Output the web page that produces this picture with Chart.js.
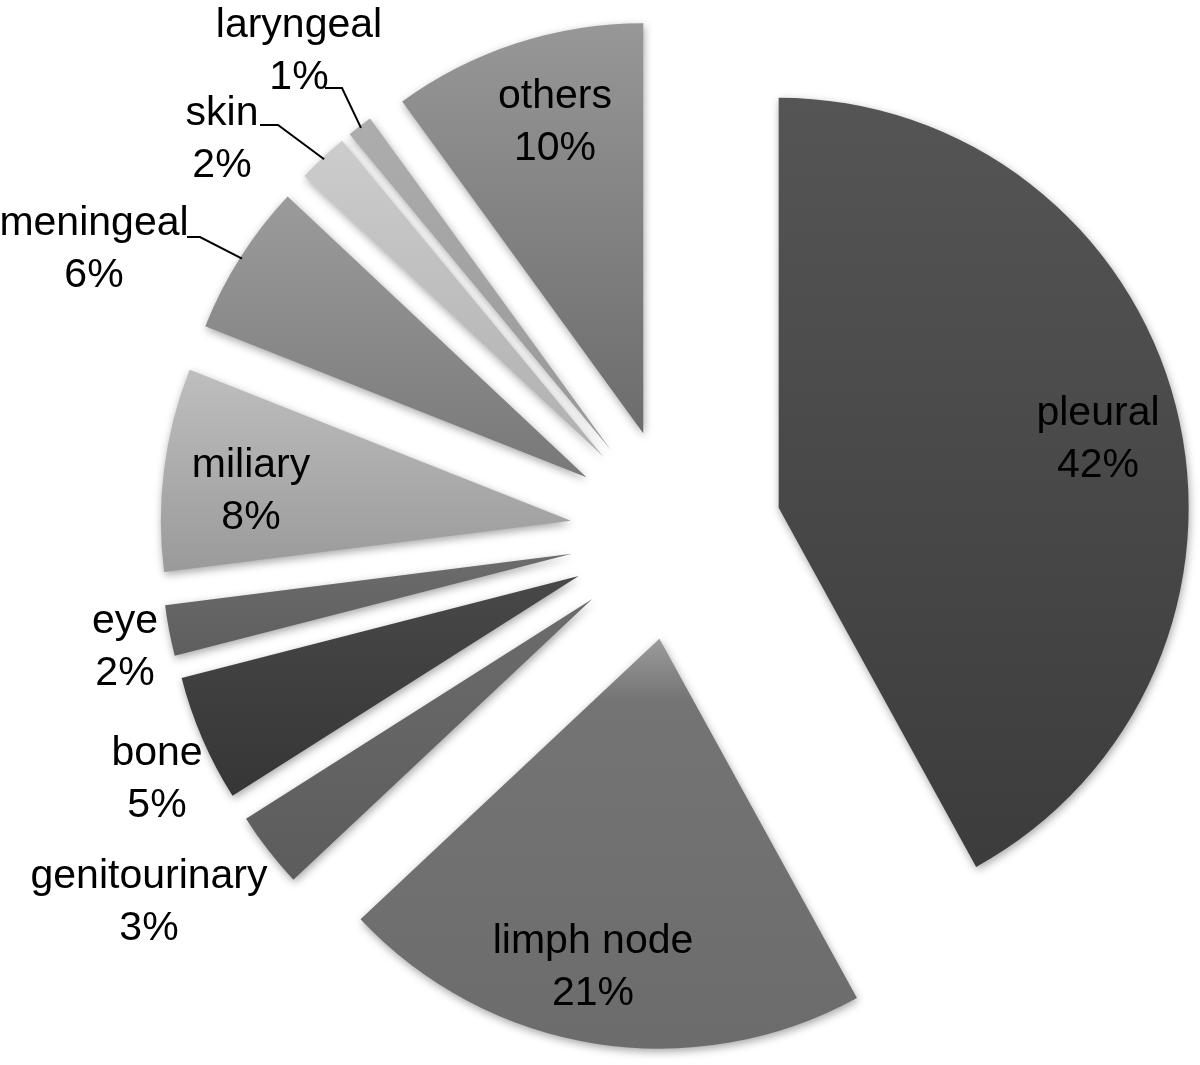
<!DOCTYPE html>
<html>
<head>
<meta charset="utf-8">
<script src="https://cdn.jsdelivr.net/npm/chart.js@4/dist/chart.umd.min.js"></script>
<style>
  html, body { margin:0; padding:0; background:#fff; }
  #wrap { width:1200px; height:1065px; position:relative; }
</style>
</head>
<body>
<div id="wrap"><canvas id="pie"></canvas></div>
<script>
// data (clockwise from 12 o'clock)
const categories = ['pleural','limph node','genitourinary','bone','eye','miliary','meningeal','skin','laryngeal','others'];
const values = [42, 21, 3, 5, 2, 8, 6, 2, 1, 10];

// styles: gradient top / bottom per slice
const topColors    = ['#555555','#9c9c9c','#6c6c6c','#484848','#6c6c6c','#bebebe','#9b9b9b','#cccccc','#adadad','#979797'];
const bottomColors = ['#3c3c3c','#6c6c6c','#5c5c5c','#363636','#5e5e5e','#9a9a9a','#787878','#b0b0b0','#989898','#6c6c6c'];

// label layout: centre x, first baseline, optional leader elbow
const labelLayout = [
  {x:1098, y:425},
  {x:593,  y:953},
  {x:149,  y:888},
  {x:157,  y:765},
  {x:125,  y:633},
  {x:251,  y:477},
  {x:94,   y:235, leader:[[187,237],[200,237]]},
  {x:222,  y:125, leader:[[260,125],[278,125]]},
  {x:299,  y:37,  leader:[[325,88],[342,88]]},
  {x:555,  y:108}
];
const EXPLODE = 106;
const RADIUS = 410;
const LINE_H = 52;

/* ---------- explode slices + gradient fill ---------- */
const explodePlugin = {
  id:'explode',
  afterDatasetsUpdate(chart){
    const meta = chart.getDatasetMeta(0);
    const ctx = chart.ctx;
    meta.data.forEach((arc, i) => {
      const mid = (arc.startAngle + arc.endAngle) / 2;
      arc.x = arc.x + Math.cos(mid) * EXPLODE;
      arc.y = arc.y + Math.sin(mid) * EXPLODE;
      // vertical extent of the wedge for its gradient
      let minY = arc.y, maxY = arc.y;
      for (let k=0;k<=40;k++){
        const a = arc.startAngle + (arc.endAngle - arc.startAngle) * k / 40;
        const yy = arc.y + Math.sin(a) * arc.outerRadius;
        minY = Math.min(minY, yy); maxY = Math.max(maxY, yy);
      }
      const g = ctx.createLinearGradient(0, minY, 0, maxY);
      g.addColorStop(0, topColors[i]);
      if (i === 1) g.addColorStop(0.15, '#747474');
      g.addColorStop(1, bottomColors[i]);
      arc.options = Object.assign({}, arc.options, {backgroundColor:g});
    });
  },
  beforeDatasetsDraw(chart){
    const c = chart.ctx;
    c.save();
    c.shadowColor = 'rgba(0,0,0,0.35)';
    c.shadowBlur = 8;
    c.shadowOffsetX = 1;
    c.shadowOffsetY = 3;
  },
  afterDatasetsDraw(chart){
    chart.ctx.restore();
  }
};

/* ---------- labels + leader lines ---------- */
const labelPlugin = {
  id:'pieLabels',
  afterDraw(chart){
    const c = chart.ctx;
    const meta = chart.getDatasetMeta(0);
    c.save();
    c.font = '41px "Liberation Sans", Arial, Helvetica, sans-serif';
    c.fillStyle = '#000';
    c.textAlign = 'center';
    c.textBaseline = 'alphabetic';
    categories.forEach((name, i) => {
      const L = labelLayout[i];
      c.fillText(name, L.x, L.y);
      c.fillText(values[i] + '%', L.x, L.y + LINE_H);
      if (L.leader){
        const arc = meta.data[i];
        const mid = (arc.startAngle + arc.endAngle) / 2;
        const ex = arc.x + Math.cos(mid) * (arc.outerRadius - 2);
        const ey = arc.y + Math.sin(mid) * (arc.outerRadius - 2);
        c.beginPath();
        c.moveTo(L.leader[0][0], L.leader[0][1]);
        c.lineTo(L.leader[1][0], L.leader[1][1]);
        c.lineTo(ex, ey);
        c.lineWidth = 2;
        c.strokeStyle = '#000';
        c.stroke();
      }
    });
    c.restore();
  }
};

new Chart(document.getElementById('pie').getContext('2d'), {
  type:'pie',
  data:{
    labels: categories,
    datasets:[{
      data: values,
      backgroundColor: topColors,
      borderWidth: 0,
      radius: RADIUS
    }]
  },
  options:{
    responsive:true,
    maintainAspectRatio:false,
    animation:false,
    events:[],
    layout:{ padding:{ left:152, right:0, top:3, bottom:0 } },
    plugins:{ legend:{display:false}, tooltip:{enabled:false} }
  },
  plugins:[explodePlugin, labelPlugin]
});
</script>
</body>
</html>
